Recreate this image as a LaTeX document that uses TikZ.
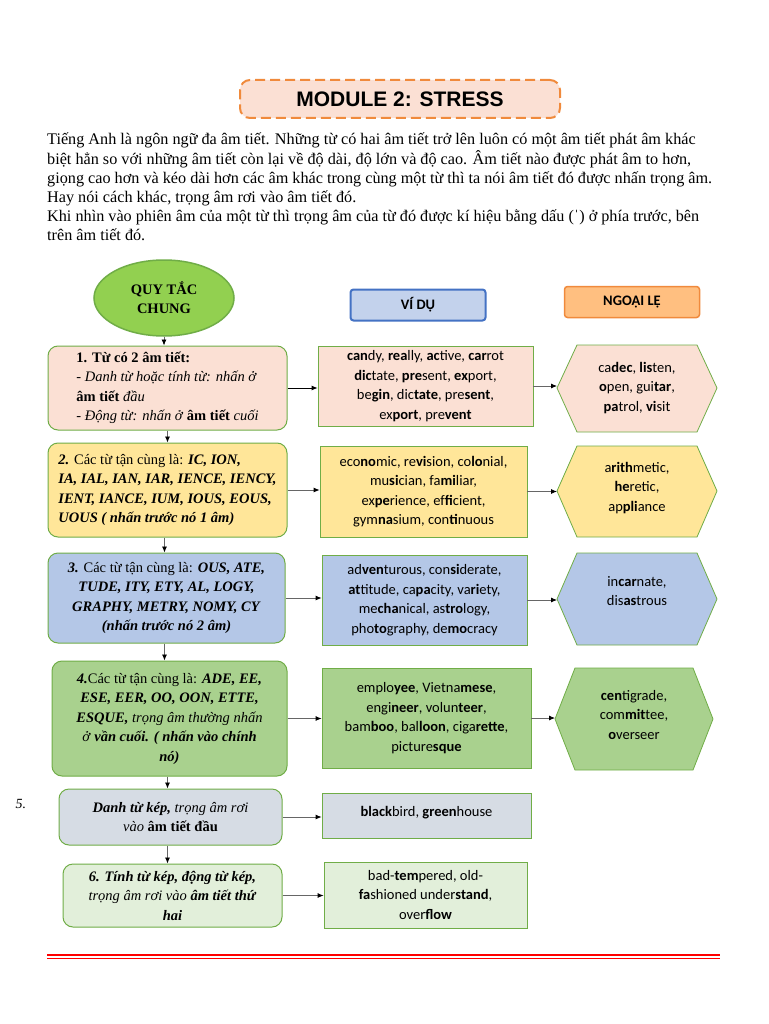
\documentclass[tikz,border=0pt]{standalone}
\usepackage{fontspec}
\setmainfont{Liberation Serif}
\newfontfamily\carl{Carlito}
\newfontfamily\arl{Liberation Sans}
\usetikzlibrary{shapes.geometric,arrows.meta}
\definecolor{gbord}{HTML}{70AD47}
\definecolor{peach}{HTML}{FBE0D4}
\definecolor{yel}{HTML}{FFE699}
\definecolor{blu}{HTML}{B4C7E7}
\definecolor{grn}{HTML}{A9D18E}
\definecolor{gry}{HTML}{D6DCE4}
\definecolor{lgrn}{HTML}{E2EFDA}
\definecolor{org}{HTML}{F08A3C}
\definecolor{lime}{HTML}{92D050}
\definecolor{bbord}{HTML}{4472C4}
\begin{document}
\begin{tikzpicture}[x=1pt,y=-1pt,
 lbox/.style={draw=gbord,line width=1pt,rounded corners=10pt,align=center,inner sep=2pt,font=\fontsize{14.5}{19.5}\selectfont},
 mbox/.style={draw=gbord,line width=0.8pt,align=center,inner sep=2pt,font=\carl\fontsize{14.5}{19.5}\selectfont},
 htext/.style={align=center,font=\carl\fontsize{14.5}{19.5}\selectfont},
 hexa/.style={draw=gbord,line width=0.8pt},
 arr/.style={draw=gray!80!black,line width=0.8pt,-{Latex[length=6pt,width=5pt,black]}}]
\useasboundingbox[fill=white] (0,0) rectangle (768,1024);
% title
\node[draw=org,line width=2pt,dashed,dash pattern=on 10pt off 5pt,fill=peach,rounded corners=10pt,minimum width=320pt,minimum height=38pt,font=\arl\bfseries\fontsize{21}{24}\selectfont] (title) at (400,99) {MODULE 2: STRESS};
\node[anchor=north west,align=left,inner sep=0pt,font=\fontsize{16.2}{19.2}\selectfont] (para) at (47,133) {Tiếng Anh là ngôn ngữ đa âm tiết. Những từ có hai âm tiết trở lên luôn có một âm tiết phát âm khác\\ biệt hẳn so với những âm tiết còn lại về độ dài, độ lớn và độ cao. Âm tiết nào được phát âm to hơn,\\ giọng cao hơn và kéo dài hơn các âm khác trong cùng một từ thì ta nói âm tiết đó được nhấn trọng âm.\\ Hay nói cách khác, trọng âm rơi vào âm tiết đó.\\ Khi nhìn vào phiên âm của một từ thì trọng âm của từ đó được kí hiệu bằng dấu (ˈ) ở phía trước, bên\\ trên âm tiết đó.};
% headers
\node[ellipse,draw=gbord,line width=1.5pt,fill=lime,minimum width=140pt,minimum height=76pt,align=center,font=\bfseries\fontsize{14.5}{19}\selectfont] (qt) at (164,298) {QUY TẮC\\CHUNG};
\node[draw=bbord,line width=2pt,fill=blu!80!white,rounded corners=3pt,minimum width=135pt,minimum height=31pt,font=\carl\bfseries\fontsize{14.5}{16}\selectfont] (vd) at (418,305) {VÍ DỤ};
\node[draw=org,line width=1.5pt,fill=orange!50!white,rounded corners=3pt,minimum width=135pt,minimum height=31pt,font=\carl\bfseries\fontsize{14.5}{16}\selectfont] (nl) at (632,302) {NGOẠI LỆ};
% left boxes
\node[lbox,fill=peach,minimum width=239pt,minimum height=84pt,align=left] (l1) at (167.5,388) {\textbf{1. Từ có 2 âm tiết:}\\\textit{- Danh từ hoặc tính từ: nhấn ở}\\\textbf{âm tiết} \textit{đầu}\\\textit{- Động từ: nhấn ở} \textbf{âm tiết} \textit{cuối}};
\node[lbox,fill=yel,minimum width=239pt,minimum height=94pt,align=left] (l2) at (167.5,490) {\textbf{\textit{2.}} Các từ tận cùng là: \textbf{\textit{IC, ION,}}\\\textbf{\textit{IA, IAL, IAN, IAR, IENCE, IENCY,}}\\\textbf{\textit{IENT, IANCE, IUM, IOUS, EOUS,}}\\\textbf{\textit{UOUS ( nhấn trước nó 1 âm)}}};
\node[lbox,fill=blu,minimum width=237pt,minimum height=90pt] (l3) at (166.5,598) {\textbf{\textit{3.}} Các từ tận cùng là: \textbf{\textit{OUS, ATE,}}\\\textbf{\textit{TUDE, ITY, ETY, AL, LOGY,}}\\\textbf{\textit{GRAPHY, METRY, NOMY, CY}}\\\textbf{\textit{(nhấn trước nó 2 âm)}}};
\node[lbox,fill=grn,minimum width=235pt,minimum height=115pt] (l4) at (169.5,718.5) {\textbf{\textit{4.}}Các từ tận cùng là: \textbf{\textit{ADE, EE,}}\\\textbf{\textit{ESE, EER, OO, OON, ETTE,}}\\\textbf{\textit{ESQUE,}} \textit{trọng âm thường nhấn}\\\textit{ở} \textbf{\textit{vần cuối. ( nhấn vào chính}}\\\textbf{\textit{nó)}}};
\node[lbox,fill=gry,minimum width=223pt,minimum height=56pt] (l5) at (170.5,817) {\textbf{\textit{Danh từ kép,}} \textit{trọng âm rơi}\\\textit{vào} \textbf{âm tiết đầu}};
\node[lbox,fill=lgrn,minimum width=219pt,minimum height=63pt] (l6) at (172.5,895.5) {\textbf{\textit{6. Tính từ kép, động từ kép,}}\\\textit{trọng âm rơi vào} \textbf{\textit{âm tiết thứ}}\\\textbf{\textit{hai}}};
\node[font=\itshape\fontsize{14}{16}\selectfont] (five) at (21,804) {5.};
% middle boxes
\node[mbox,fill=peach,minimum width=215pt,minimum height=80pt] (m1) at (425.5,386) {\textbf{can}dy, \textbf{rea}lly, \textbf{ac}tive, \textbf{car}rot\\\textbf{dic}tate, \textbf{pre}sent, \textbf{ex}port,\\be\textbf{gin}, dic\textbf{tate}, pre\textbf{sent},\\ex\textbf{port}, pre\textbf{vent}};
\node[mbox,fill=yel,minimum width=207pt,minimum height=91pt] (m2) at (423.5,491.5) {eco\textbf{no}mic, re\textbf{vi}sion, co\textbf{lo}nial,\\mu\textbf{si}cian, fa\textbf{mi}liar,\\ex\textbf{pe}rience, ef\textbf{fi}cient,\\gym\textbf{na}sium, con\textbf{ti}nuous};
\node[mbox,fill=blu,minimum width=205pt,minimum height=90pt] (m3) at (424.5,600) {ad\textbf{ven}turous, con\textbf{si}derate,\\\textbf{at}titude, ca\textbf{pa}city, va\textbf{ri}ety,\\me\textbf{cha}nical, as\textbf{tro}logy,\\pho\textbf{to}graphy, de\textbf{mo}cracy};
\node[mbox,fill=grn,minimum width=209pt,minimum height=100pt] (m4) at (426.5,718) {emplo\textbf{yee}, Vietna\textbf{mese},\\engi\textbf{neer}, volun\textbf{teer},\\bam\textbf{boo}, bal\textbf{loon}, ciga\textbf{rette},\\picture\textbf{sque}};
\node[mbox,fill=gry,minimum width=209pt,minimum height=45pt,anchor=north] (m5) at (426.5,793) {\raisebox{8pt}{\textbf{black}bird, \textbf{green}house}};
\node[mbox,fill=lgrn,minimum width=203pt,minimum height=66pt] (m6) at (425.5,895) {bad-\textbf{tem}pered, old-\\\textbf{fa}shioned under\textbf{stand},\\over\textbf{flow}};
% hexagons
\draw[hexa,fill=peach] (557,388) coordinate (h1)--(577,345)--(697,345)--(717,388)--(697,432)--(577,432)--cycle;
\node[htext] (t1) at (637,388) {ca\textbf{dec}, \textbf{lis}ten,\\\textbf{o}pen, gui\textbf{tar},\\\textbf{pa}trol, \textbf{vi}sit};
\draw[hexa,fill=yel] (557,491) coordinate (h2)--(577,446)--(697,446)--(717,491)--(697,537)--(577,537)--cycle;
\node[htext] (t2) at (637,488) {a\textbf{rith}metic,\\\textbf{he}retic,\\ap\textbf{pli}ance};
\draw[hexa,fill=blu] (557,599) coordinate (h3)--(577,553)--(697,553)--(717,599)--(697,645)--(577,645)--cycle;
\node[htext] (t3) at (637,591) {in\textbf{car}nate,\\dis\textbf{as}trous};
\draw[hexa,fill=grn] (555,719) coordinate (h4)--(575,668)--(693,668)--(713,719)--(693,770)--(575,770)--cycle;
\node[htext] (t4) at (634,715) {\textbf{cen}tigrade,\\com\textbf{mit}tee,\\\textbf{o}verseer};
% arrows
\draw[arr] (qt.south) -- (qt.south |- l1.north);
\draw[arr] (l1.south) -- (l2.north -| l1.south);
\draw[arr] ([xshift=-3pt]l2.south) -- ([xshift=-3pt]l2.south |- l3.north);
\draw[arr] ([xshift=-2pt]l3.south) -- ([xshift=-2pt]l3.south |- l4.north);
\draw[arr] ([xshift=-2pt]l4.south) -- ([xshift=-2pt]l4.south |- l5.north);
\draw[arr] ([xshift=-3pt]l5.south) -- ([xshift=-3pt]l5.south |- l6.north);
\draw[arr,draw=black] (l1.east) -- (l1.east -| m1.west);
\draw[arr] (l2.east) -- (l2.east -| m2.west);
\draw[arr] (l3.east) -- (l3.east -| m3.west);
\draw[arr] (l4.east) -- (l4.east -| m4.west);
\draw[arr] (l5.east) -- (l5.east -| m5.west);
\draw[arr] (l6.east) -- (l6.east -| m6.west);
\draw[arr] (m1.east) -- (m1.east -| h1);
\draw[arr] (m2.east) -- (m2.east -| h2);
\draw[arr] (m3.east) -- (m3.east -| h3);
\draw[arr] (m4.east) -- (m4.east -| h4);
% red line
\draw[red,line width=1.2pt] (47,955) coordinate (ra) -- (720,955) coordinate (rb);
\draw[red,line width=1.2pt] (47,958.5) -- (720,958.5);
\end{tikzpicture}
\end{document}
